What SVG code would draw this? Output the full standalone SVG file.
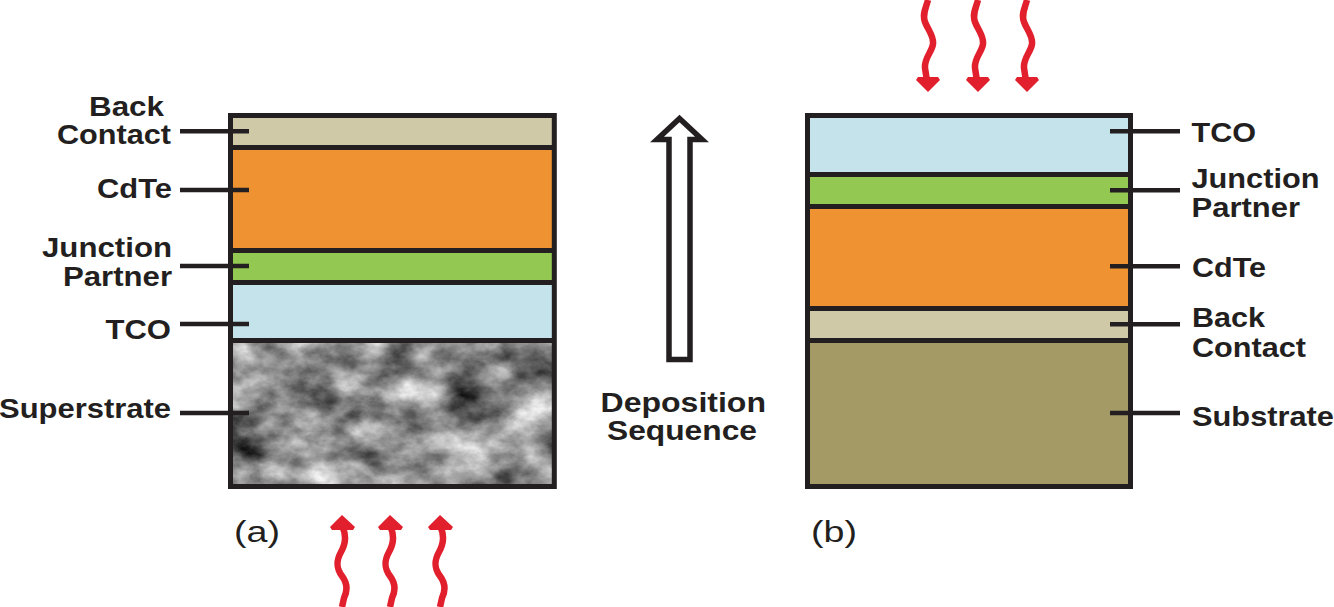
<svg xmlns="http://www.w3.org/2000/svg" width="1334" height="607" viewBox="0 0 1334 607">
<style>
.lbl{font-family:"Liberation Sans",Arial,sans-serif;font-weight:bold;font-size:27px;fill:#231F20}
.cap{font-family:"Liberation Sans",Arial,sans-serif;font-size:30px;fill:#231F20}
.edge{stroke:#231F20;stroke-width:5;fill:none}
.tick{stroke:#231F20;stroke-width:4.5;fill:none}
.wave{stroke:#E11F2D;stroke-width:6.5;fill:none}
.head{fill:#E11F2D}
</style>
<defs>
<filter id="clouds" x="0" y="0" width="1" height="1" filterUnits="objectBoundingBox" color-interpolation-filters="sRGB">
<feTurbulence type="fractalNoise" baseFrequency="0.018 0.026" numOctaves="5" seed="7" result="n"/>
<feColorMatrix in="n" type="matrix" values="1.45 0 0 0 -0.17  1.45 0 0 0 -0.17  1.45 0 0 0 -0.17  0 0 0 0 1"/>
</filter>
<g id="waveUp">
<path class="wave" d="M343,528 C346,535 346,543 341,552 C336,561 336,568 342,576 C348,584 347,592 344,598 L342,607"/>
<polygon class="head" points="342,515 330,527 332,530 353,530 355,527"/>
</g>
<g id="waveDown">
<path class="wave" d="M928,0 C926,8 922,14 925,22 C928,30 934,36 933,44 C932,52 924,58 925,68 L927,81"/>
<polygon class="head" points="928,92 916,80 918,77 938,77 940,80"/>
</g>
</defs>

<g id="stack-a">
<rect x="230.5" y="115.5" width="323.8" height="32" fill="#CFC9A8"/>
<rect x="230.5" y="147.5" width="323.8" height="103" fill="#EF9231"/>
<rect x="230.5" y="250.5" width="323.8" height="32" fill="#93C952"/>
<rect x="230.5" y="282.5" width="323.8" height="58" fill="#C4E3EB"/>
<rect x="230.5" y="340.5" width="323.8" height="146" fill="#888" filter="url(#clouds)"/>
<rect class="edge" x="230.5" y="115.5" width="323.8" height="371"/>
<path class="edge" d="M230.5,147.5H554.3M230.5,250.5H554.3M230.5,282.5H554.3M230.5,340.5H554.3"/>
</g>

<g id="stack-b">
<rect x="807.5" y="115.5" width="323" height="59" fill="#C4E3EB"/>
<rect x="807.5" y="174.5" width="323" height="32" fill="#93C952"/>
<rect x="807.5" y="206.5" width="323" height="102" fill="#EF9231"/>
<rect x="807.5" y="308.5" width="323" height="32" fill="#CFC9A8"/>
<rect x="807.5" y="340.5" width="323" height="146" fill="#A39A66"/>
<rect class="edge" x="807.5" y="115.5" width="323" height="371"/>
<path class="edge" d="M807.5,174.5H1130.5M807.5,206.5H1130.5M807.5,308.5H1130.5M807.5,340.5H1130.5"/>
</g>

<g id="connectors">
<path class="tick" d="M180,131.3H249M180,190H249M180,266H249M180,324H249M180,413H249"/>
<path class="tick" d="M1110,131.3H1180M1110,190.3H1180M1110,266.3H1180M1110,324.3H1180M1110,413H1180"/>
</g>

<g id="labels-a">
<text class="lbl" x="89" y="116" textLength="75" lengthAdjust="spacingAndGlyphs">Back</text>
<text class="lbl" x="57" y="144.3" textLength="114" lengthAdjust="spacingAndGlyphs">Contact</text>
<text class="lbl" x="97" y="198.3" textLength="75" lengthAdjust="spacingAndGlyphs">CdTe</text>
<text class="lbl" x="42" y="256.7" textLength="130" lengthAdjust="spacingAndGlyphs">Junction</text>
<text class="lbl" x="63" y="286" textLength="109" lengthAdjust="spacingAndGlyphs">Partner</text>
<text class="lbl" x="105.5" y="339.3" textLength="65.5" lengthAdjust="spacingAndGlyphs">TCO</text>
<text class="lbl" x="-1" y="418.3" textLength="172" lengthAdjust="spacingAndGlyphs">Superstrate</text>
</g>

<g id="labels-b">
<text class="lbl" x="1191.5" y="141.7" textLength="64.5" lengthAdjust="spacingAndGlyphs">TCO</text>
<text class="lbl" x="1191.5" y="187.7" textLength="128" lengthAdjust="spacingAndGlyphs">Junction</text>
<text class="lbl" x="1191.5" y="216.7" textLength="108.5" lengthAdjust="spacingAndGlyphs">Partner</text>
<text class="lbl" x="1192" y="276.7" textLength="74" lengthAdjust="spacingAndGlyphs">CdTe</text>
<text class="lbl" x="1192" y="327.3" textLength="73" lengthAdjust="spacingAndGlyphs">Back</text>
<text class="lbl" x="1192" y="356.7" textLength="114" lengthAdjust="spacingAndGlyphs">Contact</text>
<text class="lbl" x="1192" y="426" textLength="142" lengthAdjust="spacingAndGlyphs">Substrate</text>
</g>

<g id="deposition-arrow">
<path d="M669,359.5 L669,139.5 L657,139.5 L679.5,118.5 L702,139.5 L690,139.5 L690,359.5 Z" fill="#fff" stroke="#231F20" stroke-width="5.5" stroke-linejoin="miter"/>
</g>
<g id="deposition-label">
<text class="lbl" x="600.5" y="411.7" textLength="165.5" lengthAdjust="spacingAndGlyphs">Deposition</text>
<text class="lbl" x="607" y="440" textLength="150" lengthAdjust="spacingAndGlyphs">Sequence</text>
</g>

<g id="caption-a"><text class="cap" x="234" y="542" textLength="46" lengthAdjust="spacingAndGlyphs">(a)</text></g>
<g id="caption-b"><text class="cap" x="811" y="542" textLength="46" lengthAdjust="spacingAndGlyphs">(b)</text></g>

<g id="light-a">
<use href="#waveUp"/>
<use href="#waveUp" x="48"/>
<use href="#waveUp" x="98"/>
</g>
<g id="light-b">
<use href="#waveDown"/>
<use href="#waveDown" x="50"/>
<use href="#waveDown" x="99"/>
</g>
</svg>
